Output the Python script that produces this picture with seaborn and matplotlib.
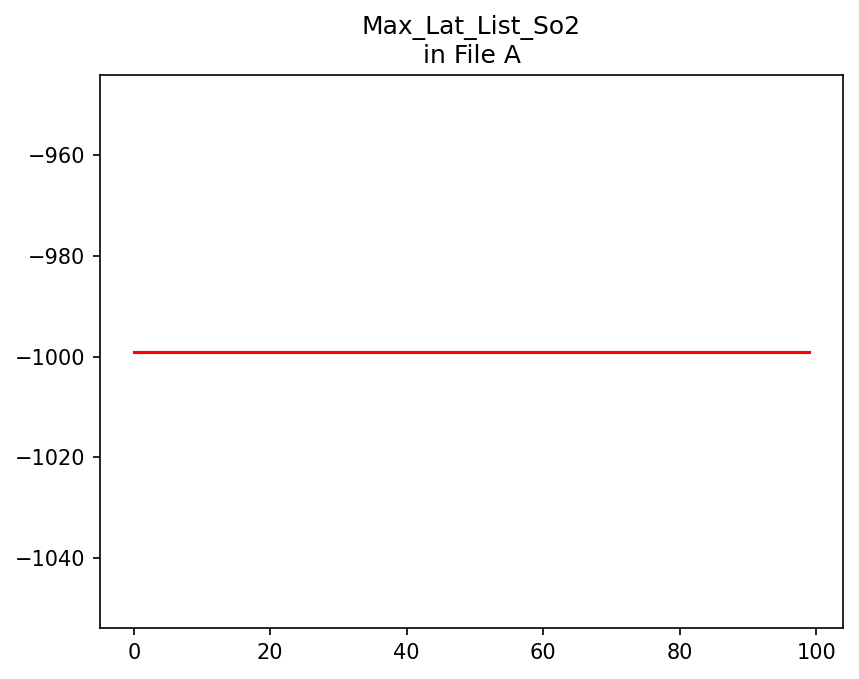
#!/usr/bin/env python3

import pandas
import seaborn as sns
import matplotlib

matplotlib.use("Agg")
import matplotlib.pyplot as plt

# Values: a flat fill value over 100 samples
sample_index = list(range(100))
max_lat_values = [-999.0] * 100

title = "Max_Lat_List_So2\nin File A"


def main():
    df = pandas.DataFrame({"index": sample_index, "value": max_lat_values})

    fig = plt.figure(figsize=(8.59 / 1.5, 6.79 / 1.5), dpi=150)
    ax = fig.add_axes([0.1164, 0.0751, 0.865, 0.8144])
    sns.lineplot(data=df, x="index", y="value", color="red", ax=ax)
    ax.set_title(title, fontsize=12)
    ax.set_xlabel("")
    ax.set_ylabel("")
    fig.savefig("out.png", dpi=150)


if __name__ == "__main__":
    main()
